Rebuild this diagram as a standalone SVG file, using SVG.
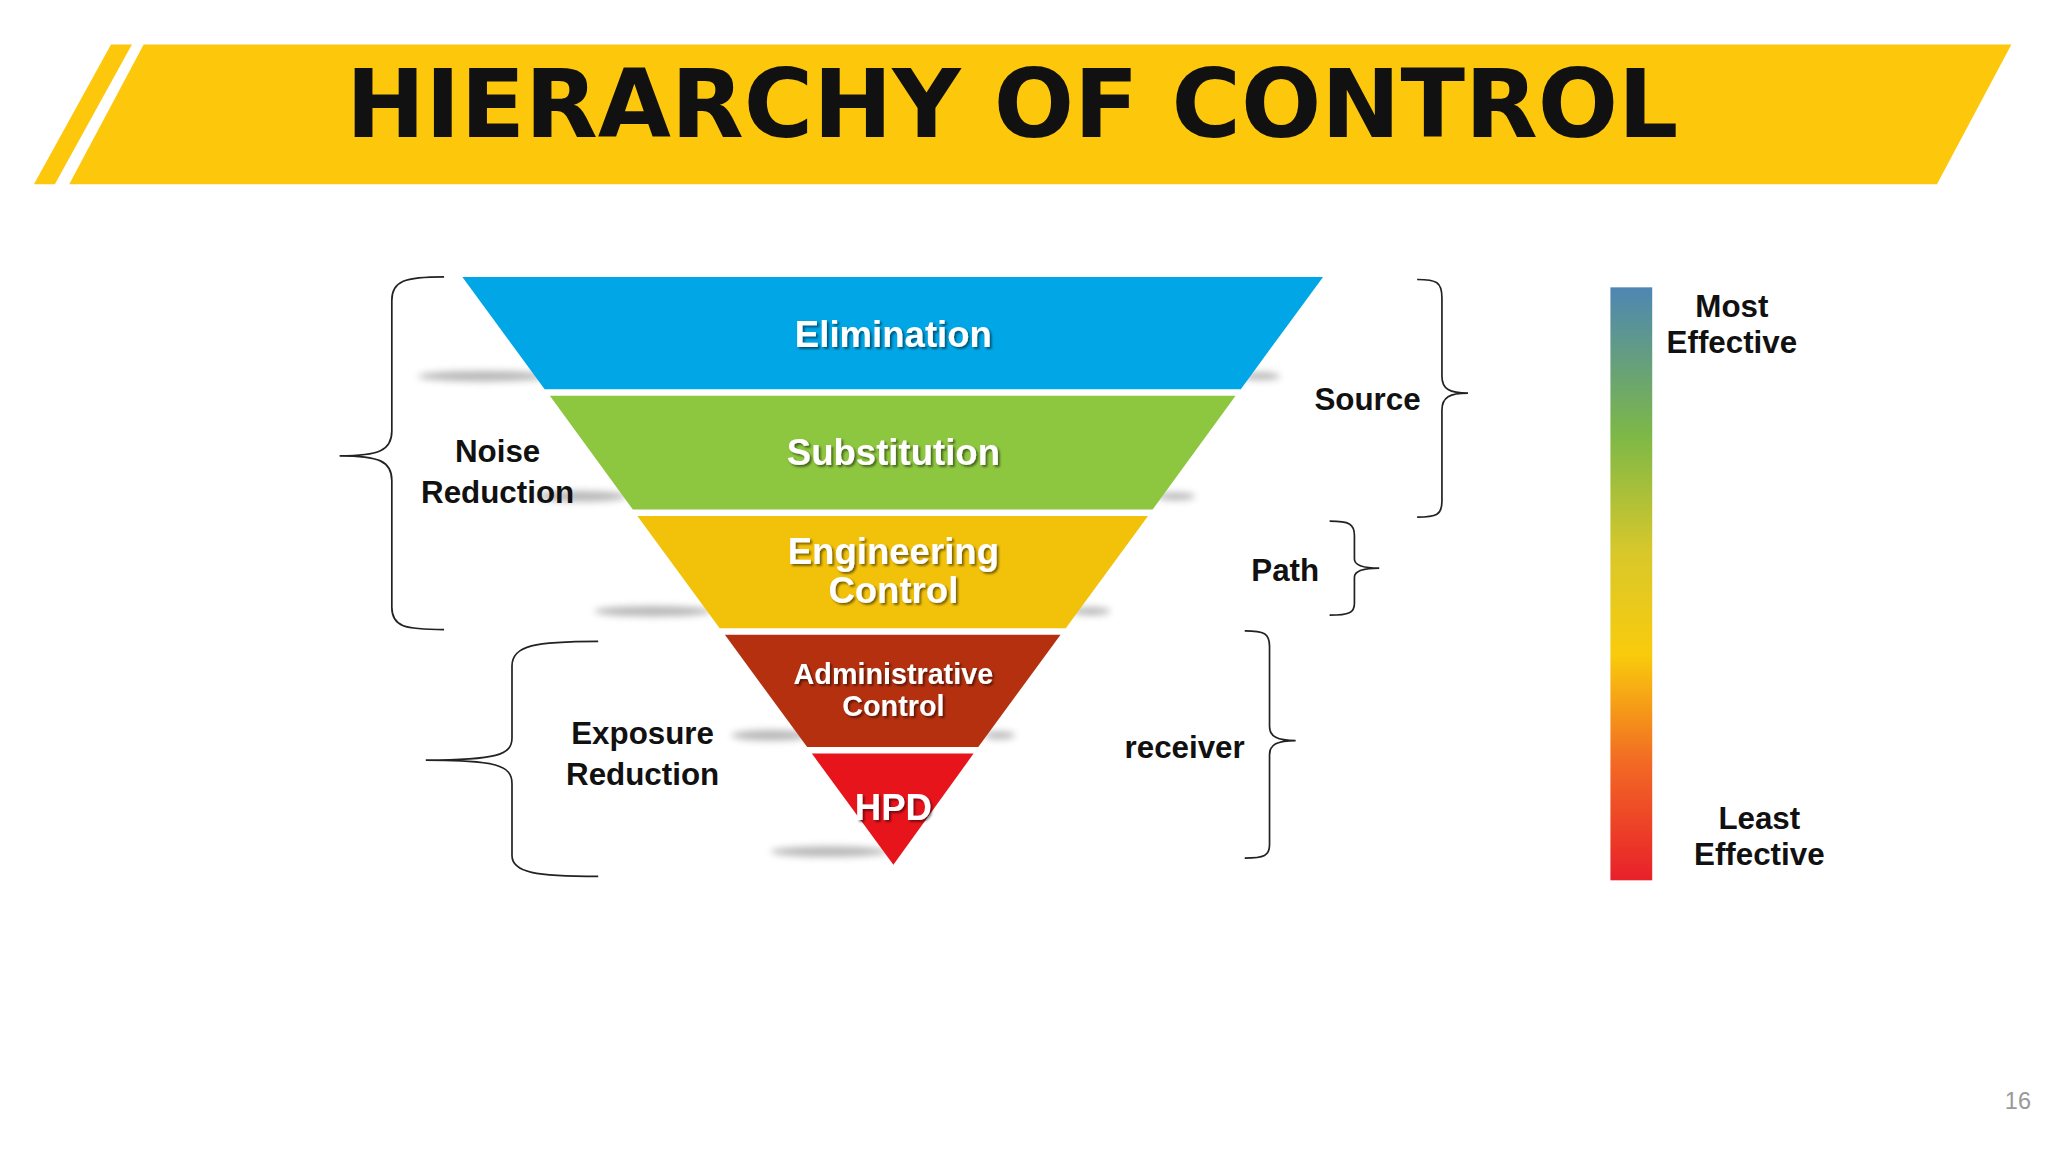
<svg xmlns="http://www.w3.org/2000/svg" width="2048" height="1152" viewBox="0 0 2048 1152">
<defs>
<linearGradient id="bar" x1="0" y1="0" x2="0" y2="1">
<stop offset="0" stop-color="#4E86B3"/><stop offset="0.25" stop-color="#7DB847"/><stop offset="0.45" stop-color="#D9C82A"/><stop offset="0.62" stop-color="#F9CB0C"/><stop offset="0.8" stop-color="#F26A24"/><stop offset="1" stop-color="#E8202A"/>
</linearGradient>
<filter id="blur" x="-50%" y="-200%" width="200%" height="500%"><feGaussianBlur stdDeviation="3"/></filter>
<filter id="ts" x="-10%" y="-30%" width="120%" height="160%"><feDropShadow dx="1.5" dy="1.5" stdDeviation="1" flood-color="#000" flood-opacity="0.5"/></filter>
<style>
.lbl{font-family:"Liberation Sans",Arial,sans-serif;font-weight:bold;fill:#fff;text-anchor:middle;filter:url(#ts)}
.side{font-family:"Liberation Sans",Arial,sans-serif;font-weight:bold;fill:#111;font-size:24px;text-anchor:middle}
.br{fill:none;stroke:#222;stroke-width:1.3}
.sh{fill:#888;opacity:0.6;filter:url(#blur)}
</style>
</defs>
<rect width="2048" height="1152" fill="#fff"/>
<g transform="scale(1.3061)">
<g id="banner">
<polygon points="110,34 1540,34 1483,141 53,141" fill="#FDC70C"/>
<polygon points="85,34 101,34 42,141 26,141" fill="#FDC70C"/>
<text x="775" y="105" font-family="'DejaVu Sans','Liberation Sans',sans-serif" font-weight="900" font-size="72" fill="#111" text-anchor="middle" textLength="1020" lengthAdjust="spacingAndGlyphs">HIERARCHY OF CONTROL</text>
</g>
<g id="shadows">
<ellipse class="sh" cx="370" cy="288" rx="50" ry="4"/>
<ellipse class="sh" cx="965" cy="288" rx="15" ry="3"/>
<ellipse class="sh" cx="445" cy="380" rx="35" ry="4"/>
<ellipse class="sh" cx="900" cy="380" rx="15" ry="3"/>
<ellipse class="sh" cx="500" cy="468" rx="45" ry="4"/>
<ellipse class="sh" cx="835" cy="468" rx="15" ry="3"/>
<ellipse class="sh" cx="590" cy="563" rx="30" ry="4"/>
<ellipse class="sh" cx="765" cy="563" rx="12" ry="3"/>
<ellipse class="sh" cx="635" cy="652" rx="45" ry="4"/>
</g>
<g id="elimination">
<polygon points="354,212 1013,212 950,298 417,298" fill="#00A6E6"/>
<text class="lbl" x="684" y="266" font-size="28">Elimination</text>
</g>
<g id="substitution">
<polygon points="421,303 946,303 882.5,390 484.5,390" fill="#8DC63F"/>
<text class="lbl" x="684" y="356" font-size="28">Substitution</text>
</g>
<g id="engineering">
<polygon points="488,395 879,395 816,481 551,481" fill="#F2C10A"/>
<text class="lbl" x="684" y="432" font-size="28">Engineering</text>
<text class="lbl" x="684" y="462" font-size="28">Control</text>
</g>
<g id="administrative">
<polygon points="555,486 812,486 749,572 618,572" fill="#B5300F"/>
<text class="lbl" x="684" y="524" font-size="22">Administrative</text>
<text class="lbl" x="684" y="548" font-size="22">Control</text>
</g>
<g id="hpd">
<polygon points="621.6,577 745.4,577 684,662" fill="#E8141B"/>
<text class="lbl" x="684" y="628" font-size="28">HPD</text>
</g>
<g id="connectors">
<path class="br" d="M340,212 C310,212 300,215 300,230 L300,330 C300,345 290,349 260,349 C290,349 300,353 300,368 L300,465 C300,480 310,482 340,482"/>
<path class="br" d="M458,491 C410,491 392,494 392,510 L392,565 C392,578 380,582 326,582 C380,582 392,586 392,600 L392,655 C392,668 410,671 458,671"/>
<path class="br" d="M1085,214 C1100,214 1104,216 1104,228 L1104,288 C1104,298 1110,301 1124,301 C1110,301 1104,304 1104,314 L1104,384 C1104,394 1100,396 1085,396"/>
<path class="br" d="M1018,399 C1033,399 1037,401 1037,410 L1037,428 C1037,433 1043,435 1056,435 C1043,435 1037,437 1037,442 L1037,462 C1037,469 1033,471 1018,471"/>
<path class="br" d="M953,483 C968,483 972,485 972,495 L972,556 C972,564 978,567 992,567 C978,567 972,570 972,578 L972,647 C972,655 968,657 953,657"/>
</g>
<g id="side-labels">
<text class="side" x="381" y="354">Noise</text>
<text class="side" x="381" y="385">Reduction</text>
<text class="side" x="492" y="570">Exposure</text>
<text class="side" x="492" y="601">Reduction</text>
<text class="side" x="1047" y="314">Source</text>
<text class="side" x="984" y="445">Path</text>
<text class="side" x="907" y="580">receiver</text>
</g>
<g id="scale">
<rect x="1233" y="220" width="32" height="454" fill="url(#bar)"/>
<text class="side" x="1326" y="243" font-size="22">Most</text>
<text class="side" x="1326" y="270" font-size="22">Effective</text>
<text class="side" x="1347" y="635" font-size="22">Least</text>
<text class="side" x="1347" y="662" font-size="22">Effective</text>
</g>
<text x="1545" y="849" font-family="'Liberation Sans',Arial,sans-serif" font-size="18" fill="#999" text-anchor="middle">16</text>
</g>
</svg>
